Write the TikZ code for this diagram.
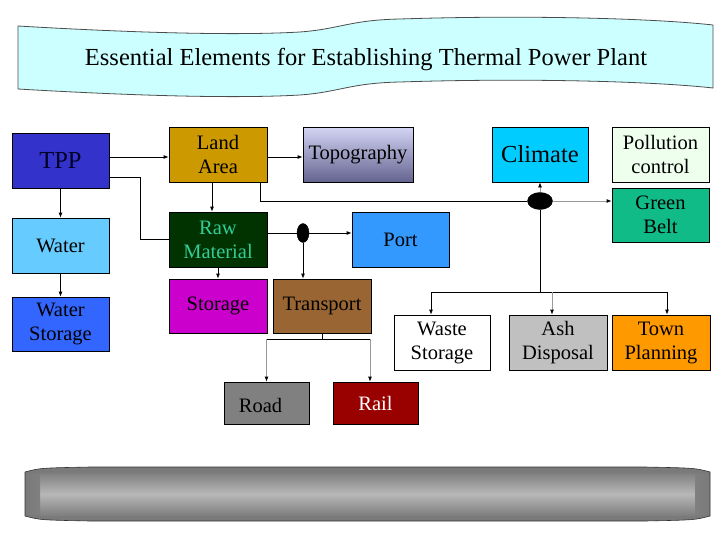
\documentclass[tikz,border=0pt]{standalone}
\usepackage{fontspec}
\setmainfont{Liberation Serif}
\usetikzlibrary{arrows.meta,shapes.geometric}
\definecolor{tppc}{HTML}{3333CC}
\definecolor{landc}{HTML}{CC9900}
\definecolor{climc}{HTML}{00CCFF}
\definecolor{pollc}{HTML}{EEFFEE}
\definecolor{greenc}{HTML}{11BB88}
\definecolor{waterc}{HTML}{66CCFF}
\definecolor{rawc}{HTML}{003300}
\definecolor{rawtxt}{HTML}{33CC99}
\definecolor{portc}{HTML}{3399FF}
\definecolor{wstorc}{HTML}{3366FF}
\definecolor{storc}{HTML}{CC00CC}
\definecolor{transc}{HTML}{996633}
\definecolor{roadc}{HTML}{808080}
\definecolor{railc}{HTML}{990000}
\definecolor{ashc}{HTML}{C0C0C0}
\definecolor{townc}{HTML}{FF9900}
\definecolor{bannerc}{HTML}{CCFFFF}
\definecolor{topotop}{HTML}{D4D4F4}
\definecolor{topobot}{HTML}{646490}
\definecolor{linegray}{HTML}{999999}
\tikzset{
  box/.style={draw=black, line width=0.8pt, inner sep=0pt, align=center,
    font=\fontsize{20.5}{24}\selectfont},
  bigtext/.style={font=\fontsize{24.5}{28}\selectfont},
  arr/.style={line width=0.8pt, -{Latex[length=5pt,width=4pt]}},
  ln/.style={line width=0.8pt},
  garr/.style={line width=0.8pt, draw=linegray, -{Latex[length=5pt,width=4pt,fill=black,color=black]}},
  dot/.style={ellipse, fill=black, draw=black, inner sep=0pt}
}
\begin{document}
\begin{tikzpicture}[x=1pt,y=-1pt]
\useasboundingbox (0,0) rectangle (728,546);
\fill[white] (0,0) rectangle (728,546);

% title banner
\draw[fill=bannerc, draw=black!70, line width=0.8pt]
  (18,26) .. controls (120,32) and (230,36) .. (300,32)
  .. controls (340,29) and (350,20) .. (400,19)
  .. controls (520,15) and (650,18) .. (713,25)
  -- (713,88)
  .. controls (650,81) and (520,78) .. (400,82)
  .. controls (350,83) and (340,92) .. (300,95)
  .. controls (230,99) and (120,95) .. (18,89) -- cycle;
\node[font=\fontsize{24.5}{28}\selectfont] (title) at (366,60) {Essential Elements for Establishing Thermal Power Plant};

% bottom bar
\fill[draw=black!80, line width=0.6pt, fill=black!52]
  (25,472) .. controls (40,468) .. (90,467) -- (645,467) .. controls (695,468) .. (710,472)
  -- (710,516) .. controls (695,520) .. (645,521) -- (90,521) .. controls (40,520) .. (25,516) -- cycle;
\shade[top color=black!50, bottom color=black!50, middle color=black!28]
  (40,473) rectangle (695,515);
\shade[left color=black!52, right color=black!50] (26,474) rectangle (40,514);
\shade[left color=black!50, right color=black!52] (695,474) rectangle (709,514);

% nodes
\node[box, bigtext, fill=tppc, text=black!85!blue, minimum width=97pt, minimum height=55pt] (TPP) at (60.5,160.5) {TPP};
\node[box, fill=landc, minimum width=98pt, minimum height=55pt] (Land) at (218,154.5) {Land\\Area};
\node[box, top color=topotop, bottom color=topobot, minimum width=110pt, minimum height=55pt] (Topo) at (358,154.5) {Topography};
\node[box, bigtext, fill=climc, minimum width=96pt, minimum height=55pt] (Climate) at (540,154.5) {Climate};
\node[box, fill=pollc, minimum width=97pt, minimum height=55pt] (Poll) at (660.5,154.5) {Pollution\\control};
\node[box, fill=greenc, minimum width=97pt, minimum height=54pt] (Green) at (660.5,215) {Green\\Belt};
\node[box, fill=waterc, minimum width=97pt, minimum height=55pt] (Water) at (60.5,245.5) {Water};
\node[box, fill=rawc, text=rawtxt, minimum width=98pt, minimum height=55pt] (Raw) at (218,239.5) {Raw\\Material};
\node[box, fill=portc, minimum width=97pt, minimum height=55pt] (Port) at (400.5,239.5) {Port};
\node[box, fill=wstorc, minimum width=97pt, minimum height=54pt] (WStor) at (60.5,324) {Water\\Storage};
\node[box, fill=storc, minimum width=98pt, minimum height=54pt] (Stor) at (218,306) {Storage};
\node[box, fill=transc, minimum width=98pt, minimum height=54pt] (Trans) at (322,306) {Transport};
\node[box, fill=white, minimum width=96pt, minimum height=55pt] (Waste) at (442,342.5) {Waste\\Storage};
\node[box, fill=ashc, minimum width=98pt, minimum height=55pt] (Ash) at (558,342.5) {Ash\\Disposal};
\node[box, fill=townc, minimum width=98pt, minimum height=55pt] (Town) at (661,342.5) {Town\\Planning};
\node[box, fill=roadc, minimum width=85pt, minimum height=42pt, text depth=0pt] (Road) at (266.5,403) {\raisebox{-4pt}{Road}\hspace{12pt}};
\node[box, fill=railc, text=white, minimum width=85pt, minimum height=42pt] (Rail) at (375.5,403) {Rail};

% junction ellipses
\node[dot, minimum width=25pt, minimum height=17pt] (E1) at (540,201) {};
\node[dot, minimum width=12pt, minimum height=19pt] (E2) at (303,233) {};
\coordinate (J2) at (540,292);
\coordinate (J3) at (322,339);
\coordinate (X140) at (140,0);
\coordinate (Y177) at (0,177);

% connectors
\draw[arr] ([yshift=3.5pt]TPP.east) -- ([yshift=-2.5pt]Land.west);
\draw[ln] (TPP.east |- Y177) -| (Raw.west -| X140) -- (Raw.west);
\draw[arr] (TPP.south) -- (Water.north);
\draw[arr] (Water.south) -- (WStor.north);
\draw[arr] ([yshift=-2.5pt]Land.east) -- ([yshift=-2.5pt]Topo.west);
\draw[arr] ([xshift=-6pt]Land.south) -- ([xshift=-6pt]Raw.north);
\draw[ln] ([xshift=42pt]Land.south) |- (E1.west);
\draw[garr] (E1.east) -- (Green.west |- E1.east);
\draw[garr] (E1.north) -- (Climate.south);
\draw[ln] (E1.south) -- (J2);
\draw[arr] (J2) -| ([xshift=-11pt]Waste.north);
\draw[arr] (J2) -| ([xshift=6pt]Town.north);
\draw[garr] ([xshift=-6pt]Ash.north |- J2) -- ([xshift=-6pt]Ash.north);
\draw[ln] ([yshift=6.5pt]Raw.east) -- (E2.west);
\draw[arr] (E2.east) -- (Port.west |- E2.east);
\draw[arr] (E2.south) -- ([xshift=-19pt]Trans.north);
\draw[arr] (Raw.south) -- (Stor.north);
\draw[ln] (Trans.south) -- (J3);
\draw[ln] (J3 -| Road.north) -- ([xshift=-5.5pt]J3 -| Rail.north);
\draw[garr] (J3 -| Road.north) -- (Road.north);
\draw[garr] ([xshift=-5.5pt]J3 -| Rail.north) -- ([xshift=-5.5pt]Rail.north);
\end{tikzpicture}
\end{document}
